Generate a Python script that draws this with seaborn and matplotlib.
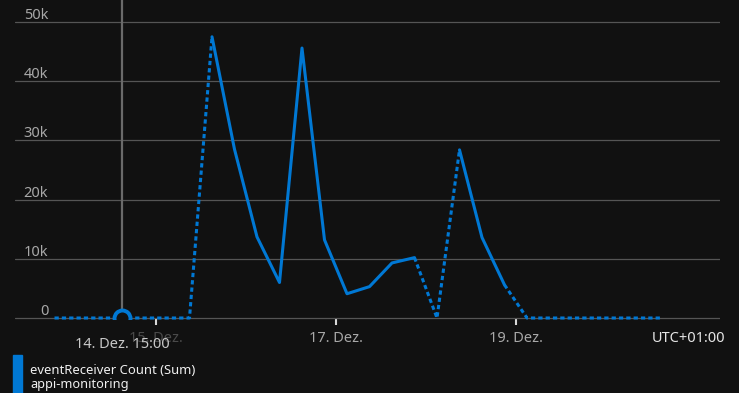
import matplotlib
matplotlib.use("Agg")
import matplotlib.pyplot as plt
import matplotlib.patches as mpatches
import numpy as np
import pandas as pd
import seaborn as sns

# 6-hourly sums, None = no data (drawn dotted at zero)
times = pd.date_range("2023-12-13 21:00", periods=28, freq="6h")
values = [None, None, None, None, None, None, None,
          47500, 28500, 13700, 6000, 45600, 13200, 4100, 5300, 9300, 10200,
          None,
          28400, 13600, 5600,
          None, None, None, None, None, None, None]
y_ticks = [0, 10000, 20000, 30000, 40000, 50000]
y_labels = ["0", "10k", "20k", "30k", "40k", "50k"]
x_ticks = pd.to_datetime(["2023-12-15", "2023-12-17", "2023-12-19"])
x_labels = ["15. Dez.", "17. Dez.", "19. Dez."]
hover_time = pd.Timestamp("2023-12-14 15:00")
hover_label = "14. Dez. 15:00"
series_name = "eventReceiver Count (Sum)"
resource_name = "appi-monitoring"

bg = "#111111"
blue = "#0078d4"

sns.set_style("dark", {"axes.facecolor": bg, "figure.facecolor": bg})
plt.rcParams["font.family"] = ["Noto Sans", "DejaVu Sans"]

# split into solid runs (both ends known) and dotted runs (a gap at either end)
valid = [v is not None for v in values]
filled = [0 if v is None else v for v in values]
rows = []
run = 0
prev_kind = None
for i in range(len(values) - 1):
    kind = "solid" if valid[i] and valid[i + 1] else "dotted"
    if kind != prev_kind:
        run += 1
        rows.append((times[i], filled[i], run, kind))
    rows.append((times[i + 1], filled[i + 1], run, kind))
    prev_kind = kind
df = pd.DataFrame(rows, columns=["time", "value", "run", "kind"])

fig = plt.figure(figsize=(7.39, 3.93), dpi=100)
ax = fig.add_axes([15 / 739, 63 / 393, 705 / 739, 330 / 393])

sns.lineplot(data=df, x="time", y="value", units="run", style="kind",
             estimator=None, color=blue, linewidth=2.2,
             dashes={"solid": "", "dotted": (1.4, 1.0)},
             legend=False, ax=ax)
for ln in ax.lines:
    ln.set_dash_capstyle("butt")
    ln.set_solid_capstyle("round")

ax.set_xlim(pd.Timestamp("2023-12-13 10:28"), pd.Timestamp("2023-12-21 06:28"))
ax.set_ylim(-2027, 53716)

# hover crosshair
ax.vlines(hover_time, 0, 53716, color="#6a6a6a", lw=1.6, zorder=1)
mk, = ax.plot([hover_time], [0], marker="o", ms=11.5, mew=2.8,
              mec=blue, mfc=bg, zorder=5)
clip = mpatches.Rectangle((0, -150), 1, 60000, transform=ax.get_yaxis_transform())
mk.set_clip_path(clip)

ax.set_yticks(y_ticks)
ax.yaxis.grid(True, color="#555555", lw=0.9)
ax.xaxis.grid(False)
ax.tick_params(axis="y", length=0, labelleft=False)
for v, lab in zip(y_ticks, y_labels):
    ax.annotate(lab, xy=(0.047, v), xycoords=("axes fraction", "data"),
                xytext=(0, 3), textcoords="offset pixels",
                ha="right", va="baseline", color="#a8a8a8", fontsize=10.5)

for s in ax.spines.values():
    s.set_color("none")
ax.spines["bottom"].set_position(("data", 0))
ax.set_xticks(x_ticks)
ax.set_xticklabels(x_labels)
ax.tick_params(axis="x", bottom=True, direction="out", length=5, width=1.5,
               color="#d8d8d8", labelcolor="#a8a8a8", labelsize=10.5, pad=4.5)
ax.get_xticklabels()[0].set_color("#4a4a4a")
ax.set_xlabel("")
ax.set_ylabel("")

ax.annotate(hover_label, xy=(hover_time, 0), xycoords="data",
            xytext=(0, -26), textcoords="offset pixels",
            ha="center", va="center", color="#c8c8c8", fontsize=10.5)
fig.text(725 / 739, (393 - 338) / 393, "UTC+01:00", ha="right", va="center",
         color="#e6e6e6", fontsize=10.5)

# legend
fig.patches.append(mpatches.Rectangle((13 / 739, 0), 9 / 739, 38 / 393,
                                      transform=fig.transFigure, color=blue))
fig.text(30 / 739, (393 - 374) / 393, series_name, ha="left", va="baseline",
         color="#f0f0f0", fontsize=9.4, fontweight="bold")
fig.text(30 / 739, (393 - 388) / 393, resource_name, ha="left", va="baseline",
         color="#f0f0f0", fontsize=9.2)

fig.savefig("out.png", dpi=100, facecolor=bg)
